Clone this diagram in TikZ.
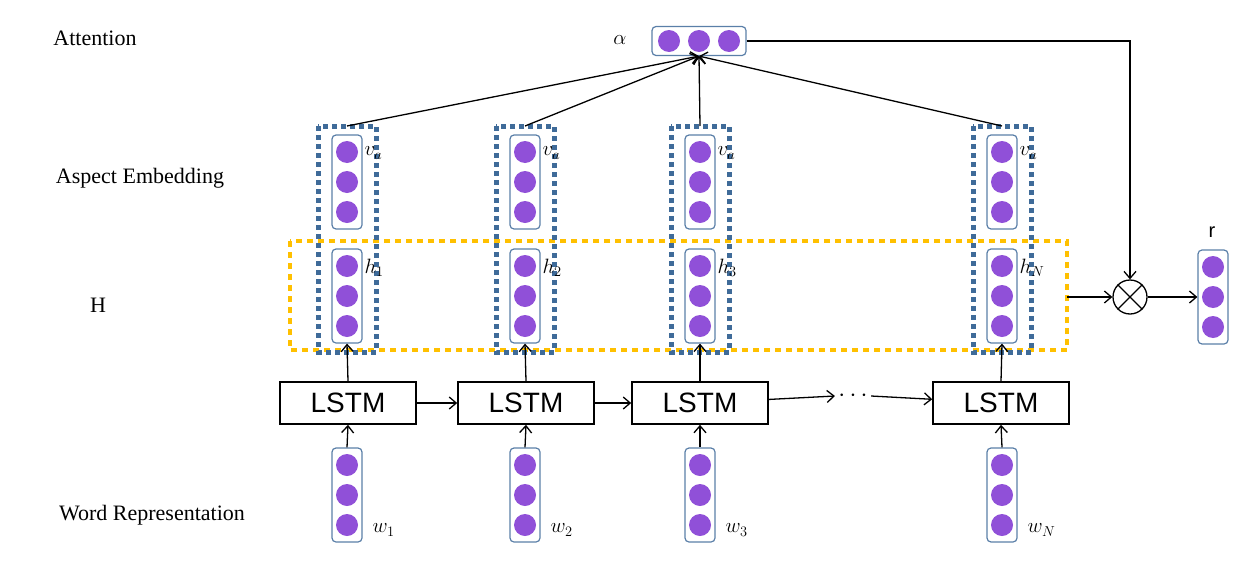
\documentclass[tikz,border=0pt]{standalone}
\usepackage{fontspec}
\setmainfont{Liberation Serif}
\newfontfamily\sans{Liberation Sans}
\usetikzlibrary{arrows.meta}
\definecolor{dot}{HTML}{9050D8}
\definecolor{vb}{HTML}{5A7FA8}
\definecolor{bd}{HTML}{3F6B99}
\definecolor{og}{HTML}{FFC000}
\begin{document}
\begin{tikzpicture}[x=1pt,y=-1pt,
 ar/.style={-{Straight Barb[length=7pt,width=12pt]},line width=1.3pt},
 vbox/.style={draw=vb,line width=1.2pt,rounded corners=4pt,minimum width=30pt,minimum height=94pt,inner sep=0pt},
 hbox/.style={draw=vb,line width=1.2pt,rounded corners=4pt,minimum width=94pt,minimum height=29pt,inner sep=0pt},
 lstm/.style={draw,line width=1.6pt,minimum width=136pt,minimum height=42pt,font=\sans\fontsize{28}{30}\selectfont},
 bdash/.style={draw=bd,line width=5pt,dash pattern=on 5pt off 4pt},
 odash/.style={draw=og,line width=4pt,dash pattern=on 6pt off 5pt},
 lab/.style={font=\fontsize{22}{24}\selectfont},
 ml/.style={font=\fontsize{22}{24}\selectfont}]
\useasboundingbox (0,0) rectangle (1242,565);
\newcommand\vdotsc[2]{\foreach \d in {-30,0,30}{\fill[dot] ({#1},{#2+\d}) circle (11pt);}}
\newcommand\hdotsc[2]{\foreach \d in {-30,0,30}{\fill[dot] ({#1+\d},{#2}) circle (11pt);}}
\node[lab] (t1) at (95,38) {Attention};
\node[lab] (t2) at (140,178) {Aspect Embedding};
\node[lab] (t3) at (98,305) {H};
\node[lab] (t4) at (152,515) {Word Representation};
\draw[odash] (290,241) rectangle (1067,350);
\foreach \i/\x/\s in {1/347/1,2/525/2,3/700/3,4/1002/N}{
 \draw[bdash] ({\x-29},126) rectangle ({\x+29},352);
 \node[vbox] (v\i) at (\x,182) {}; \vdotsc{\x}{182}
 \node[vbox] (h\i) at (\x,296) {}; \vdotsc{\x}{296}
 \node[vbox] (w\i) at (\x,495) {}; \vdotsc{\x}{495}
 \node[ml,anchor=west] at ({\x+14},153) {$v_a$};
 \node[ml,anchor=west] at ({\x+14},268) {$h_{\s}$};
 \node[ml,anchor=west] at ({\x+22},530) {$w_{\s}$};
 \coordinate (top\i) at (\x,126);
}
\node[lstm] (l1) at (348,403) {LSTM};
\node[lstm] (l2) at (526,403) {LSTM};
\node[lstm] (l3) at (700,403) {LSTM};
\node[lstm] (l4) at (1001,403) {LSTM};
\foreach \i in {1,2,3,4}{\draw[ar] (w\i.north) -- (l\i.south); \draw[ar] (l\i.north) -- (h\i.south);}
\draw[ar] (l1) -- (l2); \draw[ar] (l2) -- (l3);
\node[font=\fontsize{36}{36}\selectfont] (dd) at (853,396) {$\cdots$};
\draw[ar] (l3) -- (dd.west);
\draw[ar] (dd.east) -- (l4);
\node[hbox] (a) at (699,41) {}; \hdotsc{699}{41}
\node[ml] at (620,40) {$\alpha$};
\foreach \i in {1,2,3,4}{\draw[ar] (top\i) -- (a.south);}
\node[draw,circle,line width=1.3pt,minimum size=34pt,inner sep=0pt] (o) at (1130,297) {};
\draw[line width=1.3pt] (o.north west) -- (o.south east) (o.north east) -- (o.south west);
\coordinate (ho) at (1067,297);
\draw[ar] (ho) -- (o);
\draw[ar] (a.east) -- (1130,41) -- (o.north);
\node[vbox] (r) at (1213,297) {}; \vdotsc{1213}{297}
\node[font=\sans\fontsize{20}{22}\selectfont] at (1212,232) {r};
\draw[ar] (o) -- (r);
\end{tikzpicture}
\end{document}
